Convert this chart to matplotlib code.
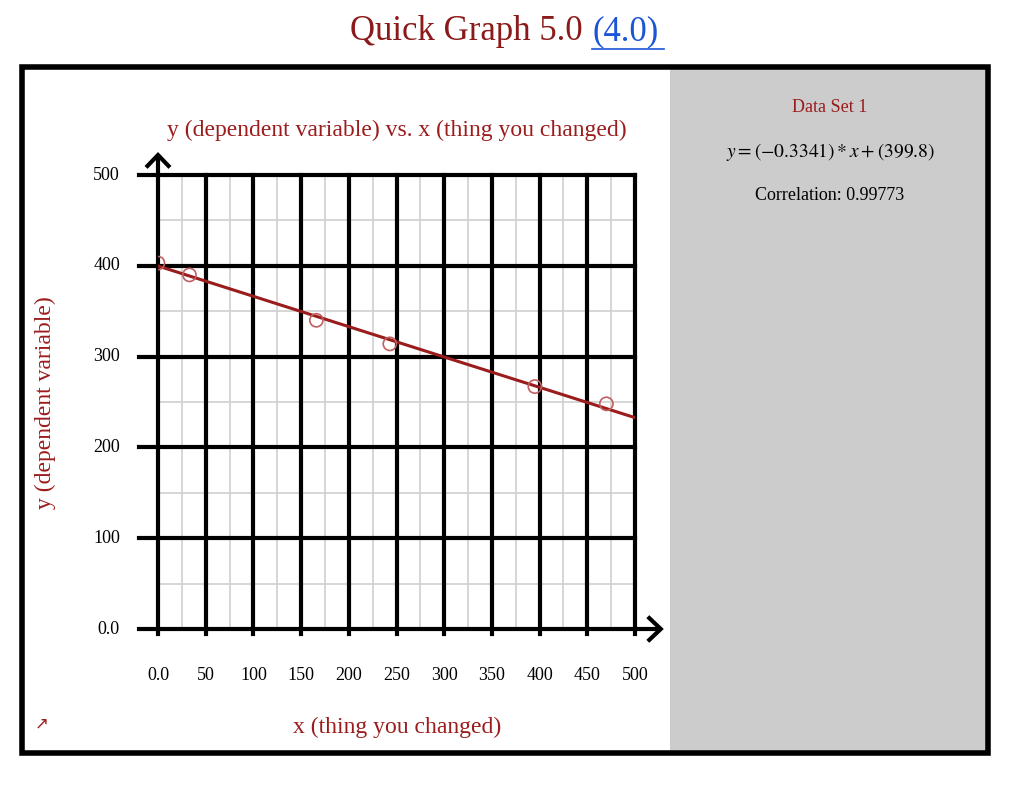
import matplotlib.pyplot as plt
import matplotlib.patches as mpatches
import numpy as np

plt.rcParams["font.family"] = ["Liberation Serif", "DejaVu Serif"]
plt.rcParams["mathtext.fontset"] = "stix"

x_vals = [0, 33, 166, 243, 395, 470]
y_vals = [403, 390, 340, 314, 267, 248]
slope, intercept = -0.3341, 399.8
x_ticks = [0, 50, 100, 150, 200, 250, 300, 350, 400, 450, 500]
x_tick_labels = ["0.0"] + [str(v) for v in x_ticks[1:]]
y_ticks = [0, 100, 200, 300, 400, 500]
y_tick_labels = ["0.0"] + [str(v) for v in y_ticks[1:]]

RED = "#9b1c1c"
W, H = 1024, 790
fig = plt.figure(figsize=(W / 100, H / 100), dpi=100)

def fx(px):
    return px / W

def fy(py):
    return 1 - py / H

# title
fig.text(fx(583), fy(32), "Quick Graph 5.0", color="#8b1a1a", fontsize=25,
         ha="right", va="center")
fig.text(fx(592), fy(32), "(4.0)", color="#1a55d6", fontsize=25,
         ha="left", va="center")
fig.add_artist(plt.Line2D([fx(592), fx(664)], [fy(49), fy(49)], color="#1a55d6", lw=1.2))

# outer frame and gray panel
fig.add_artist(mpatches.Rectangle((fx(670), fy(752)), fx(318), 684 / H,
                                  facecolor="#cccccc", edgecolor="none"))
fig.add_artist(mpatches.Rectangle((fx(22), fy(753)), fx(966), 686 / H,
                                  facecolor="none", edgecolor="black", lw=4))

fig.text(fx(830), fy(107), "Data Set 1", color=RED, fontsize=13, ha="center", va="center")
fig.text(fx(830), fy(152), r"$y = (-0.3341) * x + (399.8)$", fontsize=14,
         ha="center", va="center")
fig.text(fx(830), fy(195), "Correlation: 0.99773", fontsize=13, ha="center", va="center")

ax = fig.add_axes([fx(158), fy(629), 477 / W, 454 / H])
ax.set_xlim(0, 500)
ax.set_ylim(0, 500)
for s in ax.spines.values():
    s.set_visible(False)
ax.set_xticks([])
ax.set_yticks([])

for v in np.arange(25, 500, 50):
    ax.axvline(v, color="#d0d0d0", lw=1.2, zorder=1)
for v in np.arange(50, 500, 100):
    ax.axhline(v, color="#d0d0d0", lw=1.2, zorder=1)
for v in x_ticks:
    ax.plot([v, v], [-5, 500], color="black", lw=3, zorder=2, clip_on=False)
for v in y_ticks:
    ax.plot([-20, 500], [v, v], color="black", lw=3, zorder=2, clip_on=False)

ax.plot([500, 525], [0, 0], color="black", lw=3, clip_on=False)
ax.plot([0, 0], [500, 520], color="black", lw=3, clip_on=False)
ax.plot([515, 527, 515], [12, 0, -12], color="black", lw=3, clip_on=False,
        solid_joinstyle="miter")
ax.plot([-11, 0, 11], [510, 522, 510], color="black", lw=3, clip_on=False,
        solid_joinstyle="miter")

xs = np.array([0, 500])
ax.plot(xs, slope * xs + intercept, color=RED, lw=2.2, zorder=4)
ax.scatter(x_vals, y_vals, s=90, facecolor="none", edgecolor="#c06060", lw=1.2, zorder=5)

for v, lab in zip(x_ticks, x_tick_labels):
    fig.text(fx(158 + v * 477 / 500), fy(675), lab, fontsize=13, ha="center", va="center")
for v, lab in zip(y_ticks, y_tick_labels):
    fig.text(fx(120), fy(629 - v * 454 / 500), lab, fontsize=13, ha="right", va="center")

fig.text(fx(397), fy(130), "y (dependent variable) vs. x (thing you changed)", color=RED,
         fontsize=17, ha="center", va="center")
fig.text(fx(397), fy(727), "x (thing you changed)", color=RED, fontsize=17,
         ha="center", va="center")
fig.text(fx(45), fy(403), "y (dependent variable)", color=RED, fontsize=17,
         ha="center", va="center", rotation=90)
fig.text(fx(42), fy(723), "\u2197", color=RED, fontsize=12, ha="center", va="center",
         family="DejaVu Sans")

fig.savefig("out.png", dpi=100, facecolor="white")
